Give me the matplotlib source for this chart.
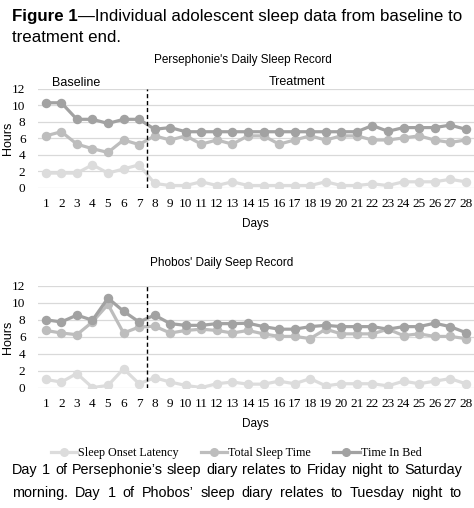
import matplotlib.pyplot as plt
from matplotlib.lines import Line2D

# Данные сна (часы) по дням
days = list(range(1, 29))

pers_sol = [1.8, 1.8, 1.8, 2.8, 1.8, 2.3, 2.8, 0.55, 0.3, 0.3, 0.75, 0.3, 0.75, 0.3,
            0.3, 0.3, 0.3, 0.3, 0.75, 0.3, 0.3, 0.5, 0.3, 0.75, 0.75, 0.75, 1.05, 0.75]
pers_tst = [6.3, 6.8, 5.3, 4.75, 4.3, 5.8, 5.25, 6.3, 5.8, 6.3, 5.3, 5.8, 5.3, 6.3,
            6.3, 5.3, 5.8, 6.3, 5.8, 6.3, 6.3, 5.8, 5.8, 6.05, 6.3, 5.8, 5.5, 5.8]
pers_tib = [10.3, 10.3, 8.3, 8.3, 7.8, 8.3, 8.3, 7.1, 7.3, 6.8, 6.8, 6.8, 6.8, 6.8,
            6.8, 6.8, 6.8, 6.8, 6.8, 6.8, 6.8, 7.55, 6.85, 7.3, 7.3, 7.3, 7.6, 7.1]

phob_sol = [1.0, 0.7, 1.7, 0.05, 0.3, 2.25, 0.5, 1.2, 0.7, 0.3, 0.05, 0.5, 0.7, 0.45,
            0.45, 0.8, 0.5, 1.1, 0.25, 0.5, 0.5, 0.5, 0.25, 0.8, 0.5, 0.8, 1.1, 0.5]
phob_tst = [6.75, 6.45, 6.25, 7.75, 9.8, 6.45, 7.15, 7.25, 6.45, 6.75, 6.9, 6.75, 6.45, 6.75,
            6.35, 6.05, 6.05, 5.8, 6.9, 6.35, 6.35, 6.35, 6.9, 6.15, 6.35, 6.05, 6.05, 5.8]
phob_tib = [8.0, 7.75, 8.55, 7.95, 10.55, 9.0, 7.75, 8.55, 7.55, 7.35, 7.35, 7.55, 7.55, 7.6,
            7.2, 6.9, 6.9, 7.2, 7.35, 7.2, 7.2, 7.2, 6.9, 7.2, 7.2, 7.6, 7.2, 6.5]

series_names = ['Sleep Onset Latency', 'Total Sleep Time', 'Time In Bed']
series_colors = ['#dcdcdc', '#bdbdbd', '#a2a2a2']
y_ticks = [0, 2, 4, 6, 8, 10, 12]

caption = '\u2014Individual adolescent sleep data from baseline to'
note_lines = ["Day 1 of Persephonie\u2019s sleep diary relates to Friday night to Saturday",
              "morning. Day 1 of Phobos\u2019 sleep diary relates to Tuesday night to"]

W, H = 474, 508
fig = plt.figure(figsize=(W / 100, H / 100), dpi=100)

sans = ['Liberation Sans', 'DejaVu Sans']
serif = ['Liberation Serif', 'DejaVu Serif']


def fx(px):
    return px / W


def fy(py):
    return 1 - py / H


def draw_panel(rect, data, y_mid):
    ax = fig.add_axes(rect)
    for vals, c in zip(data, series_colors):
        ax.plot(days, vals, color=c, lw=2.3, marker='o', ms=5.8, zorder=3)
    ax.axvline(7.5, color='black', ls=(0, (3, 2)), lw=1, zorder=4)
    ax.set_xlim(0.5, 28.5)
    ax.set_ylim(0, 12)
    ax.set_yticks(y_ticks)
    ax.set_xticks(days)
    ax.grid(axis='y', color='#d9d9d9', lw=0.9, zorder=0)
    for s in ax.spines.values():
        s.set_visible(False)
    ax.tick_params(length=0, labelsize=9.5, pad=7)
    ax.tick_params(axis='y', pad=9)
    for lab in ax.get_xticklabels() + ax.get_yticklabels():
        lab.set_family(serif)
    ax.set_xlabel('Days', family=sans, fontsize=8.5, labelpad=6)
    fig.text(fx(8), fy(y_mid), 'Hours', family=sans, fontsize=9, rotation=90,
             ha='center', va='center')
    return ax


# Верхний график: Persephonie
ax1 = draw_panel([fx(38), fy(188), fx(473.5) - fx(38), fy(88.7) - fy(188)],
                 [pers_sol, pers_tst, pers_tib], 138)
# Нижний график: Phobos
ax2 = draw_panel([fx(38), fy(388), fx(473.5) - fx(38), fy(285.7) - fy(388)],
                 [phob_sol, phob_tst, phob_tib], 337)

fig.text(fx(243), fy(60), "Persephonie's Daily Sleep Record", family=sans, fontsize=8.5,
         ha='center', va='center')
fig.text(fx(76), fy(83), 'Baseline', family=sans, fontsize=9, ha='center', va='center')
fig.text(fx(297), fy(82), 'Treatment', family=sans, fontsize=9, ha='center', va='center')
fig.text(fx(222), fy(263), "Phobos' Daily Seep Record", family=sans, fontsize=8.5,
         ha='center', va='center')

# Легенда
handles = [Line2D([], [], color=c, lw=2.3, marker='o', ms=5.5) for c in series_colors]
fig.legend(handles, series_names, loc='center', bbox_to_anchor=(fx(236), fy(453)),
           ncol=3, frameon=False, prop={'family': serif, 'size': 8.7},
           handlelength=2.2, handletextpad=0.1, columnspacing=1.8)

fig.canvas.draw()
r = fig.canvas.get_renderer()

# Подпись рисунка: подгоняем размер шрифта под ширину строки (12..462 px)
cap_size = 12.5
cap_bold = fig.text(fx(12), fy(17), 'Figure 1', family=sans, fontsize=cap_size,
                    weight='bold', ha='left', va='center')
cap_rest = fig.text(0, fy(17), caption, family=sans, fontsize=cap_size,
                    ha='left', va='center')
total = cap_bold.get_window_extent(r).width + cap_rest.get_window_extent(r).width
cap_size = cap_size * 450 / total
cap_bold.set_fontsize(cap_size)
cap_rest.set_fontsize(cap_size)
cap_rest.set_x(fx(12 + cap_bold.get_window_extent(r).width))
fig.text(fx(12), fy(37), 'treatment end.', family=sans, fontsize=cap_size,
         ha='left', va='center')

# Примечание с выравниванием по ширине
probe = fig.text(0, 0, note_lines[0], family=sans, fontsize=12)
note_size = 12 * 442 / probe.get_window_extent(r).width
probe.remove()


def justified(line, y, x0=12, x1=462):
    words = line.split()
    objs = [fig.text(0, fy(y), w, family=sans, fontsize=note_size, va='center')
            for w in words]
    widths = [o.get_window_extent(r).width for o in objs]
    gap = (x1 - x0 - sum(widths)) / (len(words) - 1)
    x = x0
    for o, w in zip(objs, widths):
        o.set_x(fx(x))
        x += w + gap


justified(note_lines[0], 470)
justified(note_lines[1], 493)

fig.savefig('out.png', dpi=100)
